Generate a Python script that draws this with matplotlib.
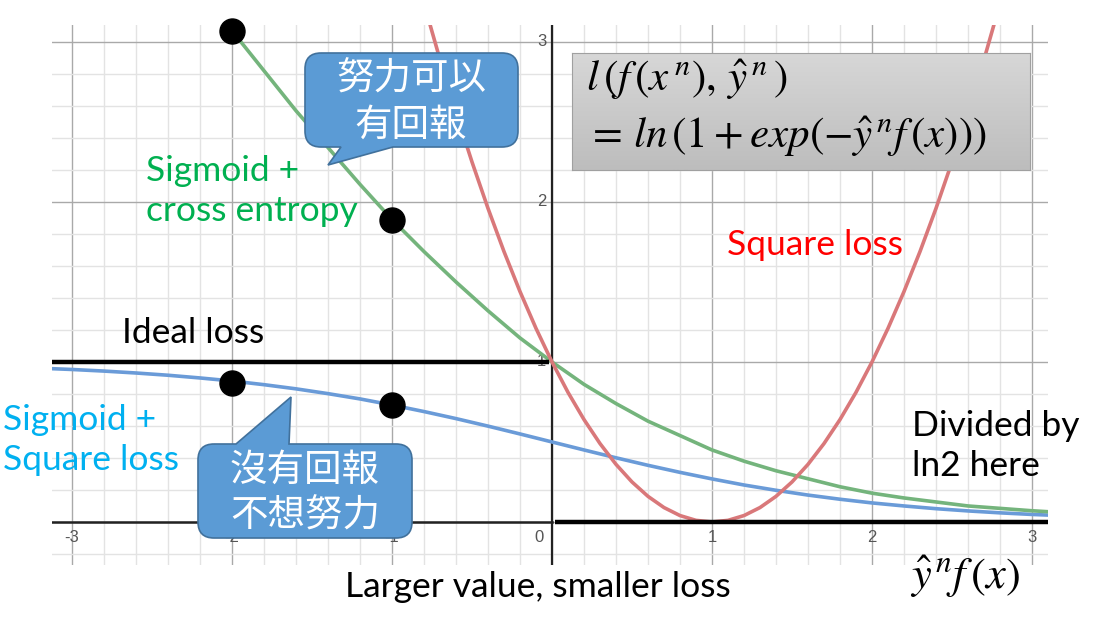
import numpy as np
import matplotlib.pyplot as plt
from matplotlib.path import Path
from matplotlib.patches import PathPatch
from matplotlib.transforms import Affine2D
from matplotlib.ticker import MultipleLocator
from matplotlib.colors import LinearSegmentedColormap

# curves
z = [-3.2, -3.0, -2.8, -2.6, -2.4, -2.2, -2.0, -1.8, -1.6, -1.4, -1.2, -1.0, -0.8,
     -0.6, -0.4, -0.2, 0.0, 0.2, 0.4, 0.6, 0.8, 1.0, 1.2, 1.4, 1.6, 1.8, 2.0, 2.2,
     2.4, 2.6, 2.8, 3.0, 3.2]
cross_entropy = [4.67, 4.40, 4.12, 3.85, 3.59, 3.33, 3.07, 2.82, 2.57, 2.34, 2.11,
                 1.89, 1.69, 1.50, 1.32, 1.15, 1.00, 0.86, 0.74, 0.63, 0.54, 0.45,
                 0.38, 0.32, 0.27, 0.22, 0.18, 0.15, 0.125, 0.10, 0.085, 0.07, 0.058]
sigmoid_square = [0.961, 0.953, 0.943, 0.931, 0.917, 0.900, 0.881, 0.858, 0.832,
                  0.802, 0.769, 0.731, 0.690, 0.646, 0.599, 0.550, 0.500, 0.450,
                  0.401, 0.354, 0.310, 0.269, 0.231, 0.198, 0.168, 0.142, 0.119,
                  0.100, 0.083, 0.069, 0.057, 0.047, 0.039]
z_sq = [-0.8, -0.7, -0.6, -0.5, -0.4, -0.3, -0.2, -0.1, 0.0, 0.1, 0.2, 0.3, 0.4,
        0.5, 0.6, 0.7, 0.8, 0.9, 1.0, 1.1, 1.2, 1.3, 1.4, 1.5, 1.6, 1.7, 1.8, 1.9,
        2.0, 2.1, 2.2, 2.3, 2.4, 2.5, 2.6, 2.7, 2.8]
square_loss = [3.24, 2.89, 2.56, 2.25, 1.96, 1.69, 1.44, 1.21, 1.00, 0.81, 0.64,
               0.49, 0.36, 0.25, 0.16, 0.09, 0.04, 0.01, 0.00, 0.01, 0.04, 0.09,
               0.16, 0.25, 0.36, 0.49, 0.64, 0.81, 1.00, 1.21, 1.44, 1.69, 1.96,
               2.25, 2.56, 2.89, 3.24]
ideal_left = 1.0
ideal_right = 0.0

dots_x = [-2, -1, -2, -1]
dots_y = [3.07, 1.89, 0.87, 0.73]

xticks = [-3, -2, -1, 1, 2, 3]
yticks = [1, 2, 3]

W, H = 1104, 623
plt.rcParams['mathtext.fontset'] = 'stix'
fig = plt.figure(figsize=(W / 100, H / 100), dpi=100)
fig.patch.set_facecolor('white')

# pixel coords (origin top-left) -> figure
px = Affine2D().scale(1 / W, -1 / H).translate(0, 1) + fig.transFigure

ax = fig.add_axes([52 / W, 1 - 565 / H, 996 / W, 540 / H])
ax.set_xlim(-3.125, 3.1)
ax.set_ylim(-0.269, 3.106)
for s in ax.spines.values():
    s.set_visible(False)
ax.xaxis.set_major_locator(MultipleLocator(1))
ax.xaxis.set_minor_locator(MultipleLocator(0.2))
ax.yaxis.set_major_locator(MultipleLocator(1))
ax.yaxis.set_minor_locator(MultipleLocator(0.2))
ax.grid(which='major', color='#a9a9a9', lw=1.0)
ax.grid(which='minor', color='#e3e3e3', lw=1.0)
ax.tick_params(which='both', length=0, labelbottom=False, labelleft=False)
ax.set_axisbelow(True)

ax.axvline(0, color='#222222', lw=1.6, zorder=2)
ax.plot([-3.2, 0], [0, 0], color='#222222', lw=1.8, zorder=2)

for t in xticks:
    ax.text(t, -0.1, str(t), ha='center', va='center', fontsize=12,
            color='#555555', family='Liberation Sans')
for t in yticks:
    ax.text(-0.035, t, str(t), ha='right', va='center', fontsize=12,
            color='#555555', family='Liberation Sans')
ax.text(-0.08, -0.1, '0', ha='center', va='center', fontsize=12,
        color='#555555', family='Liberation Sans')

ax.plot(z, sigmoid_square, color='#6a9bd8', lw=2.6, zorder=3)
ax.plot(z, cross_entropy, color='#74b47c', lw=2.6, zorder=3)
ax.plot(z_sq, square_loss, color='#d9787a', lw=2.6, zorder=3)
ax.hlines(ideal_left, -3.2, -0.02, color='black', lw=3.2, zorder=4)
ax.hlines(ideal_right, 0.02, 3.2, color='black', lw=3.2, zorder=4)
ax.plot(dots_x, dots_y, 'o', color='black', ms=18, zorder=5, clip_on=False)


def callout(x0, y0, x1, y1, r, side, a, b, tip):
    v = [(x0 + r, y0)]
    c = [Path.MOVETO]
    if side == 'top':
        v += [(a, y0), tip, (b, y0)]
        c += [Path.LINETO] * 3
    v += [(x1 - r, y0), (x1, y0), (x1, y0 + r), (x1, y1 - r), (x1, y1), (x1 - r, y1)]
    c += [Path.LINETO, Path.CURVE3, Path.CURVE3, Path.LINETO, Path.CURVE3, Path.CURVE3]
    if side == 'bottom':
        v += [(b, y1), tip, (a, y1)]
        c += [Path.LINETO] * 3
    v += [(x0 + r, y1), (x0, y1), (x0, y1 - r), (x0, y0 + r), (x0, y0), (x0 + r, y0)]
    c += [Path.LINETO, Path.CURVE3, Path.CURVE3, Path.LINETO, Path.CURVE3, Path.CURVE3]
    p = PathPatch(Path(v, c), facecolor='#5b9bd5', edgecolor='#41719c', lw=1.2,
                  transform=px, zorder=6)
    fig.add_artist(p)


callout(305, 53, 518, 147, 16, 'bottom', 341, 393, (328, 165))
callout(198, 444, 412, 538, 16, 'top', 236, 289, (291, 397))

cjk = ['Noto Sans CJK TC', 'DejaVu Sans']
fig.text(411, 102, '努力可以\n有回報', transform=px, ha='center', va='center',
         color='white', fontsize=27, family=cjk, linespacing=1.25, zorder=7,
         fontweight='light')
fig.text(305, 493, '沒有回報\n不想努力', transform=px, ha='center', va='center',
         color='white', fontsize=27, family=cjk, linespacing=1.25, zorder=7,
         fontweight='light')

# formula box with a soft vertical gradient
bx = fig.add_axes([572 / W, 1 - 170 / H, 458 / W, 117 / H])
grad = np.linspace(0, 1, 64)[:, None]
bx.imshow(grad, aspect='auto', extent=[0, 1, 0, 1],
          cmap=LinearSegmentedColormap.from_list('g', ['#d7d7d7', '#bdbdbd']))
bx.set_xticks([])
bx.set_yticks([])
for s in bx.spines.values():
    s.set_color('#a0a0a0')

fig.text(586, 80, r'$l\,(f\,(x^{\,n}),\,\hat{y}^{\,n}\,)$', transform=px, ha='left',
         va='center', fontsize=31, color='black', zorder=7)
fig.text(586, 137,
         r'$=\,ln\,\left(1+exp\left(-\hat{y}^{\,n}f\,(x)\right)\right)$',
         transform=px, ha='left', va='center', fontsize=31, color='black', zorder=7)

font = 'Lato'
fs = 25.5
fig.text(146, 191, 'Sigmoid +\ncross entropy', transform=px, ha='left', va='center',
         color='#00b050', fontsize=fs, family=font, linespacing=1.32)
fig.text(3, 440, 'Sigmoid +\nSquare loss', transform=px, ha='left', va='center',
         color='#00b0f0', fontsize=fs, family=font, linespacing=1.32)
fig.text(122, 333, 'Ideal loss', transform=px, ha='left', va='center',
         color='black', fontsize=fs, family=font)
fig.text(727, 245, 'Square loss', transform=px, ha='left', va='center',
         color='#ff0000', fontsize=fs, family=font)
fig.text(912, 446, 'Divided by\nln2 here', transform=px, ha='left', va='center',
         color='black', fontsize=fs, family=font, linespacing=1.32)
fig.text(345, 587, 'Larger value, smaller loss', transform=px, ha='left',
         va='center', color='black', fontsize=fs, family=font)
fig.text(910, 577, r'$\hat{y}^{\,n}f\,(x)$', transform=px, ha='left', va='center',
         color='black', fontsize=32)

fig.savefig('out.png', dpi=100)
